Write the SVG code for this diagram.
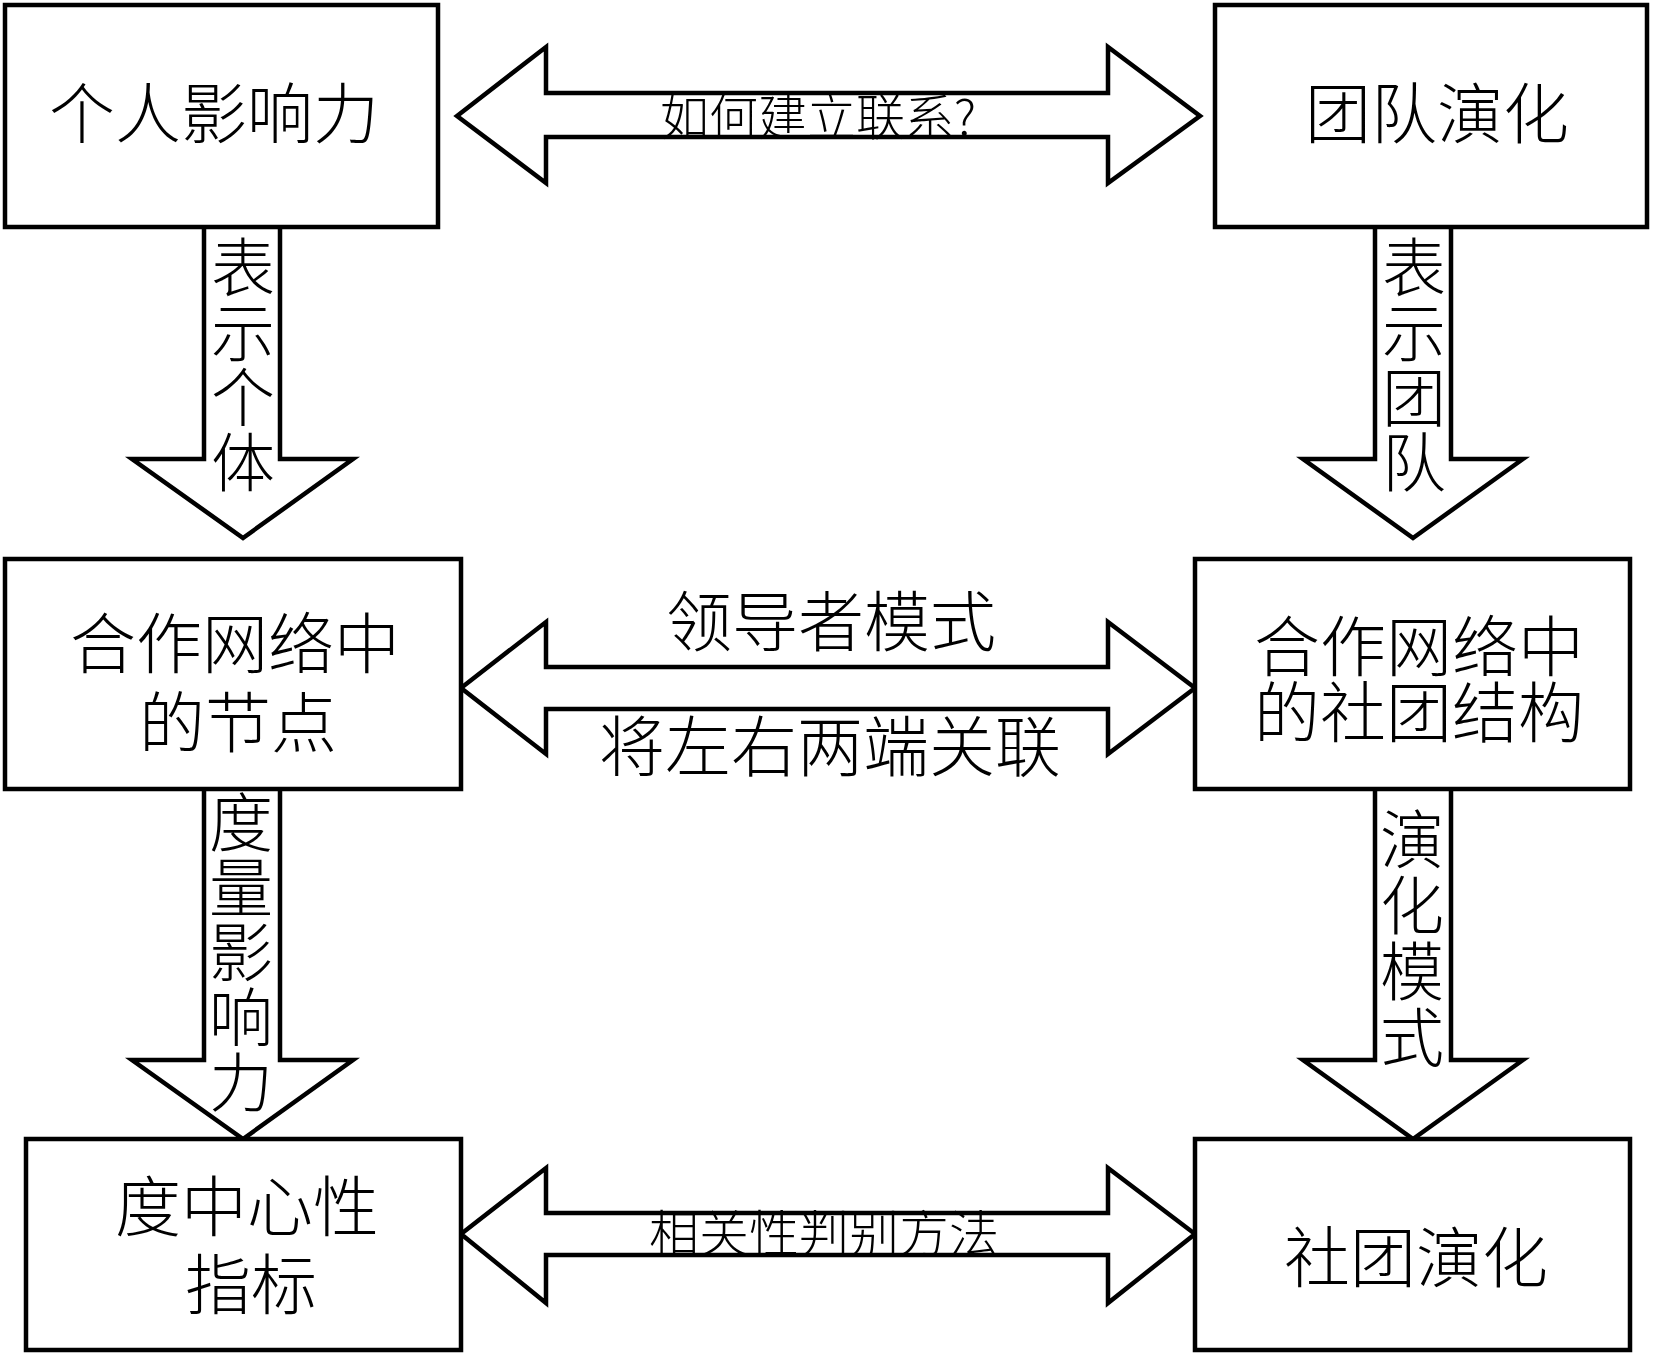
<svg xmlns="http://www.w3.org/2000/svg" width="1654" height="1356" viewBox="0 0 1654 1356">
<style>
.box{fill:#fff;stroke:#000;stroke-width:4.5}
.arr{fill:#fff;stroke:#000;stroke-width:4.5;stroke-linejoin:miter}
.t{font-family:"Noto Sans CJK SC","Noto Sans CJK JP",sans-serif;font-weight:300;fill:#000;text-anchor:middle;font-size:66px}
.v{font-size:64px}
</style>
<rect width="1654" height="1356" fill="#fff"/>
<g id="connectors">
<path class="arr" d="M204,227 L204,459 L132,459 L243,538 L353,459 L280,459 L280,227"/>
<path class="arr" d="M1375,227 L1375,459 L1303,459 L1413,538 L1523,459 L1451,459 L1451,227"/>
<path class="arr" d="M204,789 L204,1060 L132,1060 L243,1139 L353,1060 L280,1060 L280,789"/>
<path class="arr" d="M1375,789 L1375,1060 L1303,1060 L1413,1139 L1523,1060 L1451,1060 L1451,789"/>
<polygon class="arr" points="457,116 546,47 546,93 1108,93 1108,47 1200,116 1108,183 1108,137 546,137 546,183"/>
<polygon class="arr" points="461,688 546,622 546,667 1108,667 1108,622 1195,688 1108,754 1108,709 546,709 546,754"/>
<polygon class="arr" points="461,1234 546,1168 546,1213 1108,1213 1108,1168 1195,1234 1108,1303 1108,1255 546,1255 546,1303"/>
<text class="t" x="818" y="135" style="font-size:49px">如何建立联系?</text>
<text class="t" x="831" y="646">领导者模式</text>
<text class="t" x="830" y="771">将左右两端关联</text>
<text class="t" x="824" y="1252" style="font-size:50px">相关性判别方法</text>
<text class="t v"><tspan x="243" y="291">表</tspan><tspan x="243" y="356">示</tspan><tspan x="243" y="421">个</tspan><tspan x="243" y="486">体</tspan></text>
<text class="t v"><tspan x="1414" y="291">表</tspan><tspan x="1414" y="356">示</tspan><tspan x="1414" y="421">团</tspan><tspan x="1414" y="486">队</tspan></text>
<text class="t v"><tspan x="241" y="846">度</tspan><tspan x="241" y="911">量</tspan><tspan x="241" y="976">影</tspan><tspan x="241" y="1041">响</tspan><tspan x="241" y="1106">力</tspan></text>
<text class="t v"><tspan x="1412" y="863">演</tspan><tspan x="1412" y="929">化</tspan><tspan x="1412" y="995">模</tspan><tspan x="1412" y="1061">式</tspan></text>
</g>
<g id="n1"><rect class="box" x="5" y="5" width="433" height="222"/><text class="t" x="214" y="138">个人影响力</text></g>
<g id="n2"><rect class="box" x="1215" y="5" width="432" height="222"/><text class="t" x="1437" y="138">团队演化</text></g>
<g id="n3"><rect class="box" x="5" y="559" width="456" height="230"/><text class="t" x="235" y="668">合作网络中</text><text class="t" x="238" y="747">的节点</text></g>
<g id="n4"><rect class="box" x="1195" y="559" width="435" height="230"/><text class="t" x="1419" y="671">合作网络中</text><text class="t" x="1419" y="737">的社团结构</text></g>
<g id="n5"><rect class="box" x="26" y="1139" width="435" height="211"/><text class="t" x="247" y="1231">度中心性</text><text class="t" x="251" y="1309">指标</text></g>
<g id="n6"><rect class="box" x="1195" y="1139" width="435" height="211"/><text class="t" x="1416" y="1282">社团演化</text></g>
</svg>
